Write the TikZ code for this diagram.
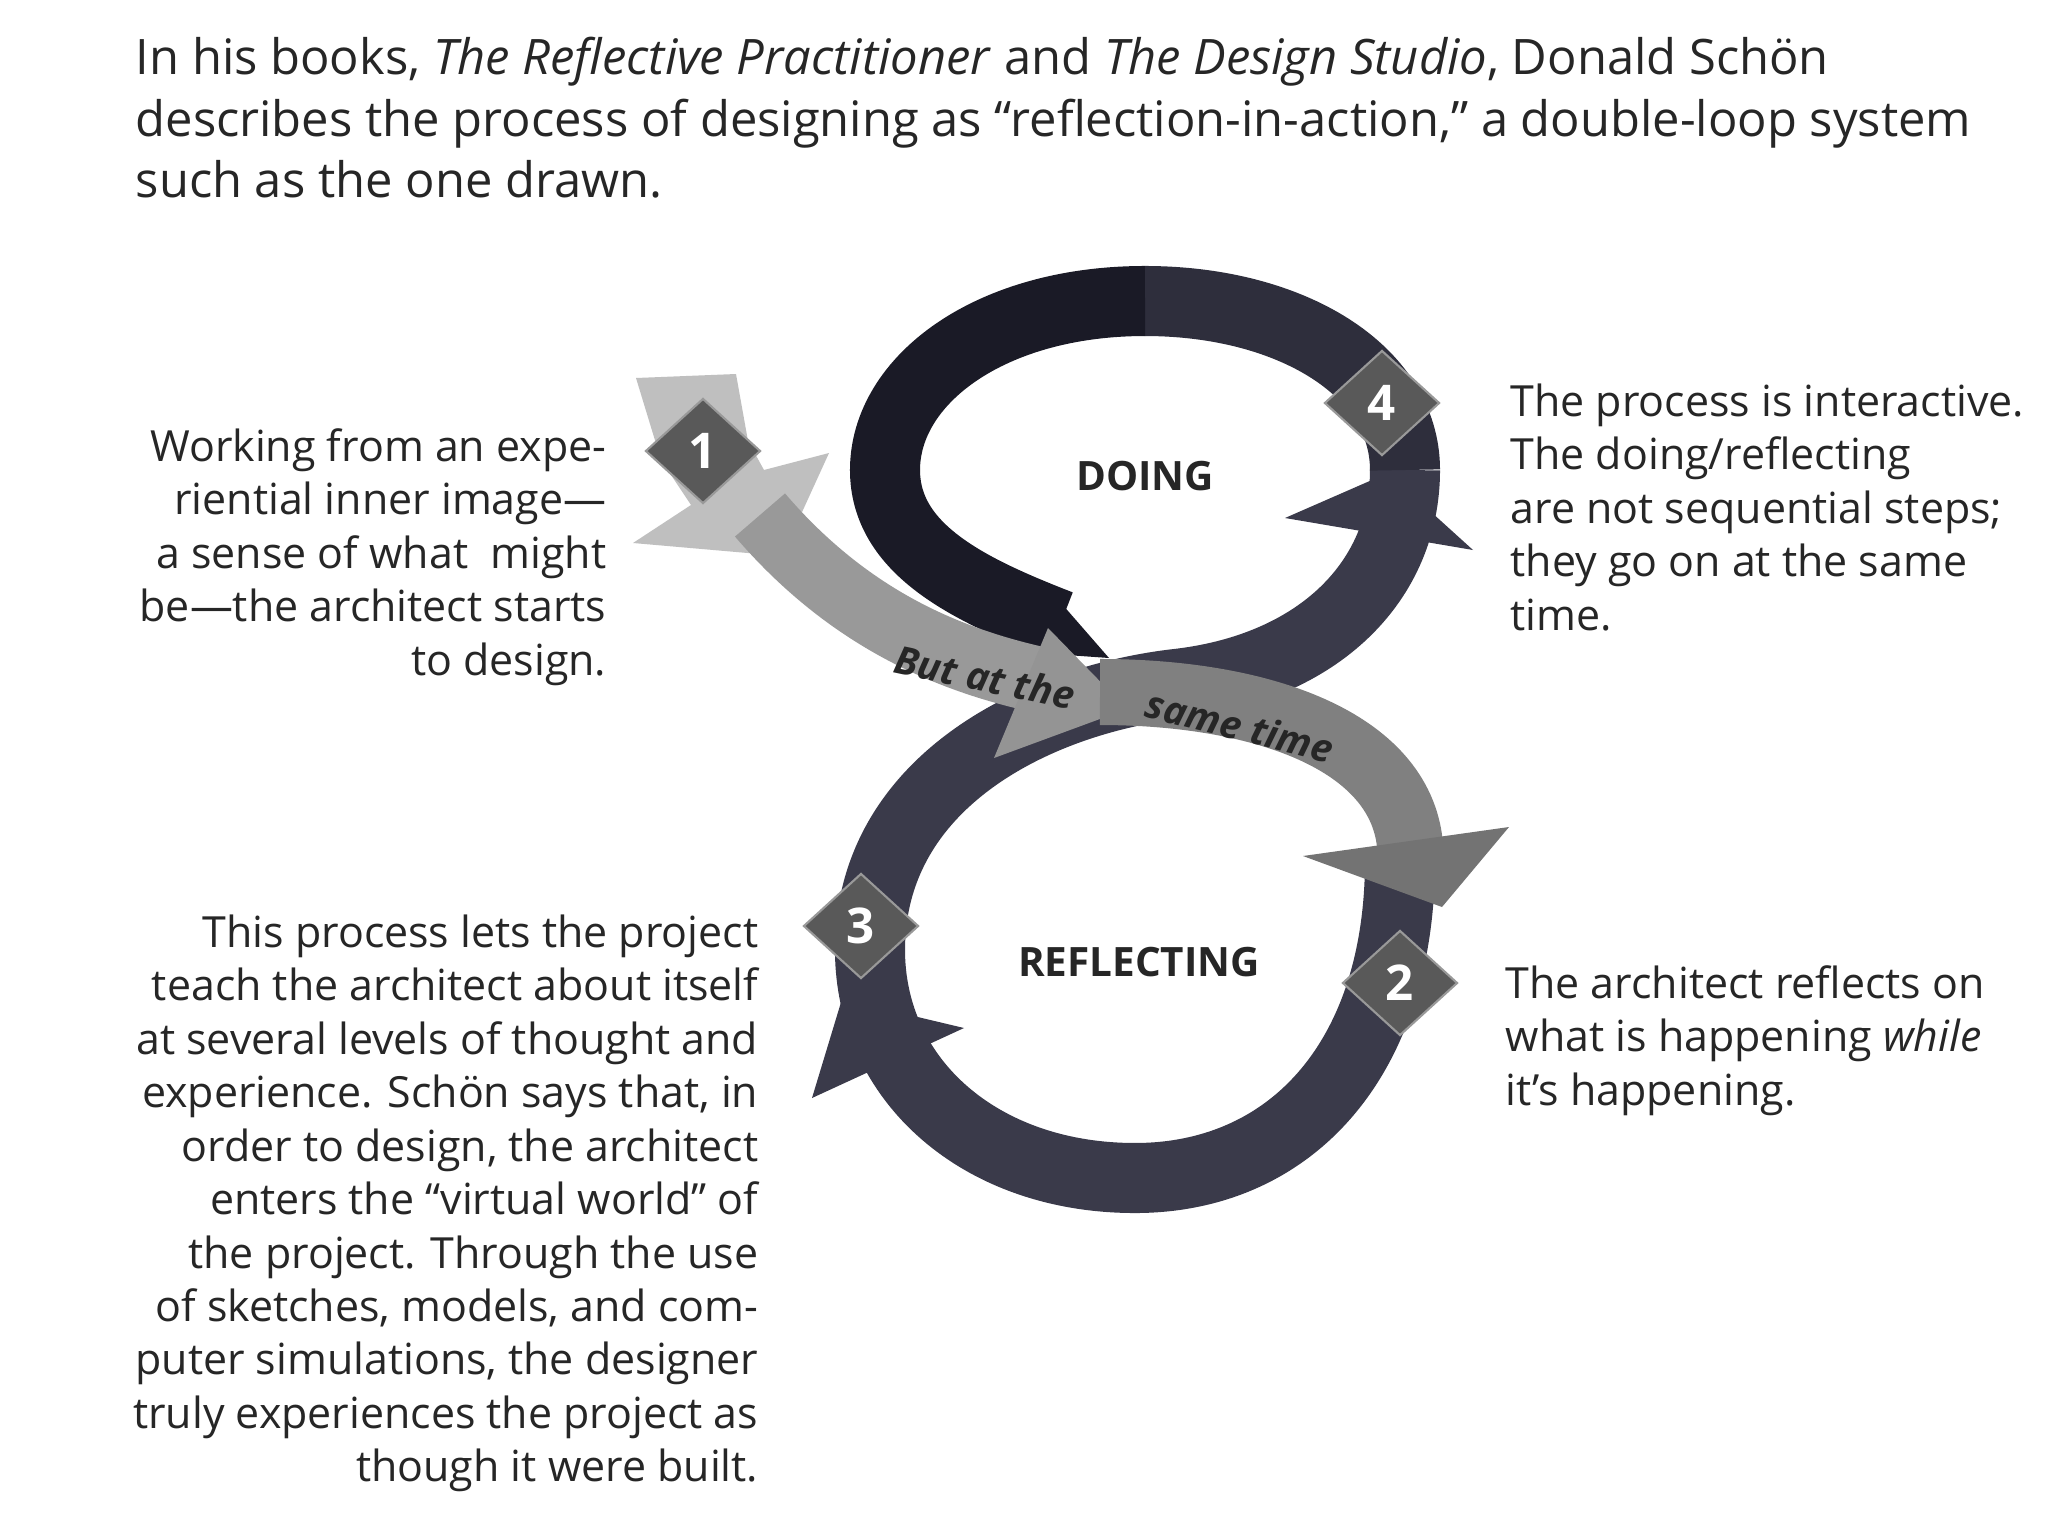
\documentclass[tikz,border=0pt]{standalone}
\usepackage{fontspec}
\setmainfont{Open Sans}
\usetikzlibrary{shapes.geometric}
\begin{document}
\begin{tikzpicture}[x=0.01cm,y=-0.01cm,
  band/.style={line width=0.70cm},
  gband/.style={line width=0.66cm},
  dia/.style={draw=black!40,line width=0.6pt,fill=black!65,minimum width=1.15cm,minimum height=1.05cm,shape=diamond,inner sep=0pt,text=white,font=\fontsize{14}{14}\selectfont\bfseries},
  body/.style={inner sep=0pt,font=\fontsize{12.2}{15.2}\selectfont,text=black!85},
  lbl/.style={inner sep=0pt,font=\fontsize{11.5}{12}\selectfont\bfseries,text=black!85}]
\useasboundingbox (0,0) rectangle (2048,1536);
\fill[white] (0,0) rectangle (2048,1536);
\definecolor{dk}{HTML}{3A3A4A}
\definecolor{blk}{HTML}{1A1A26}
\definecolor{mid}{HTML}{2E2E3C}
% dark band
\draw[band,dk] (1400,860) .. controls (1400,1060) and (1290,1178) .. (1135,1178)
  .. controls (980,1178) and (870,1080) .. (870,950)
  .. controls (870,780) and (1040,700) .. (1176,684)
  .. controls (1320,668) and (1405,580) .. (1405,470);
\draw[band,mid] (1405,470) .. controls (1405,370) and (1290,301) .. (1145,301);
\draw[band,blk] (1145,301) .. controls (990,301) and (885,380) .. (885,470)
  .. controls (885,550) and (970,590) .. (1060,625);
\fill[blk] (1048,588) -- (1109,658) -- (1024,652) -- cycle;
\fill[dk] (1285,518) -- (1388,473) -- (1473,550) -- cycle;
\fill[dk] (812,1098) -- (842,999) -- (964,1028) -- cycle;
% gray arrow
\fill[black!25] (636,378) -- (736,374) -- (748,441) -- (764,470) -- (829,453) -- (782,556) -- (633,543) -- (691,505) -- (661,460) -- cycle;
\draw[gband,black!40] (760,515) .. controls (850,620) and (950,660) .. (1040,680);
\fill[black!42] (1048,628) -- (1127,709) -- (994,758) -- cycle;
\draw[gband,black!50] (1100,692) .. controls (1260,692) and (1400,740) .. (1410,845);
\fill[black!55] (1303,856) -- (1509,827) -- (1442,907) -- cycle;
\node[inner sep=0pt,rotate=-12,font=\fontsize{11}{11}\selectfont\bfseries\itshape,text=black!85] (t1) at (985,677) {But at the};
\node[inner sep=0pt,rotate=-14,font=\fontsize{11}{11}\selectfont\bfseries\itshape,text=black!85] (t2) at (1240,726) {same time};
% diamonds
\node[dia] (d1) at (703,451) {1};
\node[dia] (d4) at (1382,403) {4};
\node[dia] (d3) at (861,926) {3};
\node[dia] (d2) at (1400,983) {2};
\node[lbl] (doing) at (1145,476) {DOING};
\node[lbl] (refl) at (1139,962) {REFLECTING};
% texts
\node[body,anchor=north west,align=left,font=\fontsize{13.9}{17.6}\selectfont] (top) at (135,36) {In his books, \textit{The Reflective Practitioner} and \textit{The Design Studio}, Donald Schön\\describes the process of designing as “reflection-in-action,” a double-loop system\\such as the one drawn.};
\node[body,anchor=north east,align=right] (lt) at (607,428) {Working from an expe-\\riential inner image—\\a sense of what\ \ might\\be—the architect starts\\to design.};
\node[body,anchor=north west,align=left] (rt) at (1510,383) {The process is interactive.\\The doing/reflecting\\are not sequential steps;\\they go on at the same\\time.};
\node[body,anchor=north east,align=right] (lb) at (759,914) {This process lets the project\\teach the architect about itself\\at several levels of thought and\\experience. Schön says that, in\\order to design, the architect\\enters the “virtual world” of\\the project. Through the use\\of sketches, models, and com-\\puter simulations, the designer\\truly experiences the project as\\though it were built.};
\node[body,anchor=north west,align=left] (rb) at (1505,965) {The architect reflects on\\what is happening \textit{while}\\it’s happening.};
\end{tikzpicture}
\end{document}
